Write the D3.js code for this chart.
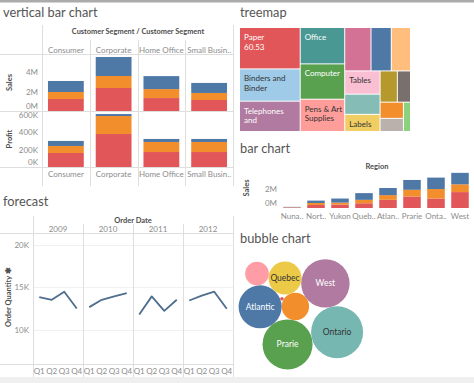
<!DOCTYPE html>
<html><head><meta charset="utf-8">
<script src="https://cdn.jsdelivr.net/npm/d3@7"></script>
<style>body{margin:0;background:#fff;overflow:hidden} svg text{font-family:Lato,'Open Sans',sans-serif}</style>
</head><body>
<svg id="c" width="474" height="383"></svg>
<script>
// ---------------- DATA ----------------
const segments = ["Consumer", "Corporate", "Home Office", "Small Business"];
const segmentLabels = ["Consumer", "Corporate", "Home Office", "Small Busin.."];
const categories = ["Technology", "Office Supplies", "Furniture"]; // stacked bottom -> top
const salesTechnology = [1.23, 2.36, 1.33, 1.13];   // millions
const salesOffice     = [0.72, 1.23, 0.92, 0.72];
const salesFurniture  = [1.13, 1.95, 1.33, 1.03];
const profitTechnology = [162, 381, 173, 173];       // thousands
const profitOffice     = [81, 208, 116, 116];
const profitFurniture  = [58, 23, 35, 35];
const salesTicks = [0, 2, 4];
const profitTicks = [0, 200, 400, 600];

const treeNames = ["Paper", "Binders and Binder Accessories", "Telephones and Communication",
  "Office Furnishings", "Computer Peripherals", "Pens & Art Supplies",
  "Chairs & Chairmats", "Office Machines", "Storage & Organization",
  "Tables", "Appliances", "Labels", "Bookcases", "Copiers and Fax",
  "Envelopes", "Rubber Bands", "Scissors, Rulers and Trimmers"];
const treeLabels = ["Paper\n60.53", "Binders and\nBinder", "Telephones\nand", "Office", "Computer", "Pens & Art\nSupplies",
  "", "", "", "Tables", "", "Labels", "", "", "", "", ""];
const treeValues = [60.53, 47.2, 44.3, 39.0, 37.9, 34.6, 27.5, 21.2, 20.1, 19.8, 17.2, 14.6, 13.0, 9.9, 9.1, 7.4, 5.0];
const treeGroups = ["a", "a", "a", "b", "b", "b", "c/t", "c/t", "c/t", "c/b/l", "c/b/l", "c/b/l",
  "c/b/r/t", "c/b/r/t", "c/b/r/b/s", "c/b/r/b/s", "c/b/r/b"];
const treeColors = ["#e15759", "#a0cbe8", "#b07aa1", "#499894", "#59a14f", "#ff9d9a", "#d37295", "#4e79a7", "#ffbe7d",
  "#fabfd2", "#86bcb6", "#f1ce63", "#b6992d", "#79706e", "#f28e2b", "#bab0ac", "#8cd17d"];

const regions = ["Nunavut", "Northwest Territories", "Yukon", "Quebec", "Atlantic", "Prarie", "Ontario", "West"];
const regionLabels = ["Nuna..", "Nort..", "Yukon", "Queb..", "Atlan..", "Prarie", "Onta..", "West"];
const regionTechnology = [0.05, 0.32, 0.36, 0.50, 0.86, 1.21, 1.00, 1.68];
const regionOffice     = [0.03, 0.21, 0.21, 0.36, 0.50, 0.71, 1.00, 0.82];
const regionFurniture  = [0.04, 0.25, 0.43, 0.71, 0.75, 1.04, 1.21, 1.21];
const regionTicks = [0, 2];

const years = ["2009", "2010", "2011", "2012"];
const quarters = ["Q1", "Q2", "Q3", "Q4"];
const qty2009 = [13.86, 13.54, 14.49, 12.52]; // thousands
const qty2010 = [12.68, 13.54, 13.94, 14.33];
const qty2011 = [11.81, 13.94, 12.24, 13.54];
const qty2012 = [13.46, 14.02, 14.49, 12.48];
const qtyTicks = [10, 15, 20];

// bubbles, in packing order
const bubbleRegions = ["Northwest Territories", "Nunavut", "Atlantic", "Quebec", "Prarie", "West", "Ontario", "Yukon"];
const bubbleValues = [7.5, 0.12, 18.5, 10.9, 25.0, 23.4, 27.0, 5.6];
const bubbleColors = ["#f28e2b", "#e15759", "#4e79a7", "#edc948", "#59a14f", "#b07aa1", "#76b7b2", "#ff9da7"];

// ---------------- HELPERS ----------------
const svg = d3.select("#c");
const GRID = "#dedede", AX = "#8c8c8c", HEAD = "#4d4d4d", TITLE = "#555";
const catColor = d3.scaleOrdinal().domain(categories).range(["#e15759", "#f28e2b", "#4e79a7"]);
const textOn = c => d3.lab(c).l > 65 ? "#333" : "#fff";

function hline(x1, x2, y, c) { svg.append("line").attr("x1", x1).attr("x2", x2).attr("y1", y).attr("y2", y).attr("stroke", c || GRID).attr("shape-rendering", "crispEdges"); }
function vline(x, y1, y2, c) { svg.append("line").attr("x1", x).attr("x2", x).attr("y1", y1).attr("y2", y2).attr("stroke", c || GRID).attr("shape-rendering", "crispEdges"); }
function txt(x, y, t, o) {
  o = o || {};
  return svg.append("text").attr("x", x).attr("y", y).attr("font-size", o.size || 8).attr("fill", o.fill || AX)
    .attr("font-weight", o.weight || 400).attr("text-anchor", o.anchor || "start").text(t);
}
function vtxt(x, y, t, o) {
  o = o || {};
  return svg.append("text").attr("transform", `translate(${x},${y}) rotate(-90)`).attr("font-size", o.size || 7.5)
    .attr("fill", o.fill || HEAD).attr("font-weight", o.weight || 700).attr("text-anchor", "middle").text(t);
}
function styleAxis(g) {
  g.select(".domain").remove();
  g.attr("font-family", null).attr("font-size", null);
  g.selectAll("text").attr("font-size", 8).attr("fill", AX);
  g.selectAll(".tick").filter(d => d === 0).select("text").attr("dy", "-0.3em");
}

// frame
svg.append("rect").attr("x", 0).attr("y", 0).attr("width", 474).attr("height", 2.5).attr("fill", "#ababab");
svg.append("rect").attr("x", 0).attr("y", 377).attr("width", 474).attr("height", 6).attr("fill", "#efefef");

const TS = 12.8;
txt(3, 16.7, "vertical bar chart", { size: TS, fill: TITLE });
txt(240, 16.7, "treemap", { size: TS, fill: TITLE });
txt(240, 152.7, "bar chart", { size: TS, fill: TITLE });
txt(3, 206, "forecast", { size: TS, fill: TITLE });
txt(240, 243, "bubble chart", { size: TS, fill: TITLE });

// ---------------- VERTICAL BAR CHART ----------------
{
  const x = d3.scaleBand().domain(segments).range([42, 233]).paddingInner(0.25).paddingOuter(0.125);
  const ySales = d3.scaleLinear().domain([0, 5.85]).range([111, 54]);
  const yProfit = d3.scaleLinear().domain([0, 647]).range([167, 111]);
  const stack = d3.stack().keys(categories);
  const salesRows = segments.map((s, i) => ({ seg: s, "Technology": salesTechnology[i], "Office Supplies": salesOffice[i], "Furniture": salesFurniture[i] }));
  const profitRows = segments.map((s, i) => ({ seg: s, "Technology": profitTechnology[i], "Office Supplies": profitOffice[i], "Furniture": profitFurniture[i] }));

  hline(0, 233, 54.5); hline(0, 233, 111.5); hline(0, 233, 167.5);
  vline(42.5, 25, 186); vline(233.5, 25, 186);
  segments.slice(1).forEach(s => vline(Math.round(x(s) - x.step() * x.paddingInner() / 2) + 0.5, 40, 186));

  [[ySales, stack(salesRows)], [yProfit, stack(profitRows)]].forEach(([y, series]) => {
    svg.append("g").selectAll("g").data(series).join("g").attr("fill", d => catColor(d.key))
      .selectAll("rect").data(d => d).join("rect")
      .attr("x", d => x(d.data.seg)).attr("width", x.bandwidth())
      .attr("y", d => y(d[1])).attr("height", d => y(d[0]) - y(d[1]));
  });

  styleAxis(svg.append("g").attr("transform", "translate(41,0)")
    .call(d3.axisLeft(ySales).tickValues(salesTicks).tickFormat(d => d + "M").tickSize(0).tickPadding(3)));
  styleAxis(svg.append("g").attr("transform", "translate(41,0)")
    .call(d3.axisLeft(yProfit).tickValues(profitTicks).tickFormat(d => d + "K").tickSize(0).tickPadding(3)));

  txt(138, 33.7, "Customer Segment / Customer Segment", { anchor: "middle", fill: HEAD, weight: 700, size: 7.4 });
  segments.forEach((s, i) => {
    txt(x(s) + x.bandwidth() / 2, 52.6, segmentLabels[i], { anchor: "middle" });
    txt(x(s) + x.bandwidth() / 2, 176.5, segmentLabels[i], { anchor: "middle" });
  });
  vtxt(11.5, 82.5, "Sales");
  vtxt(11.5, 139, "Profit");
}

// ---------------- TREEMAP ----------------
{
  const rootObj = { name: "root", children: [] };
  treeNames.forEach((n, i) => {
    let node = rootObj;
    treeGroups[i].split("/").forEach(k => {
      let ch = node.children.find(c => c.key === k && c.children);
      if (!ch) { ch = { key: k, children: [] }; node.children.push(ch); }
      node = ch;
    });
    node.children.push({ name: n, value: treeValues[i], color: treeColors[i], label: treeLabels[i] });
  });
  const root = d3.hierarchy(rootObj).sum(d => d.value || 0);
  d3.treemap().size([170, 103]).tile(d3.treemapSliceDice).paddingInner(1).round(false)(root);
  const g = svg.append("g").attr("transform", "translate(240,28)");
  const leaf = g.selectAll("g").data(root.leaves()).join("g");
  leaf.append("rect").attr("x", d => d.x0).attr("y", d => d.y0).attr("width", d => d.x1 - d.x0).attr("height", d => d.y1 - d.y0)
    .attr("fill", d => d.data.color);
  leaf.each(function (d) {
    if (!d.data.label) return;
    d.data.label.split("\n").forEach((l, k) => {
      d3.select(this).append("text").attr("x", d.x0 + 4).attr("y", d.y0 + 12 + k * 9.7).attr("font-size", 8)
        .attr("fill", textOn(d.data.color)).text(l);
    });
  });
}

// ---------------- BAR CHART ----------------
{
  const x = d3.scaleBand().domain(regions).range([280, 472]).paddingInner(0.27).paddingOuter(0.135);
  const y = d3.scaleLinear().domain([0, 3.8]).range([208, 172]);
  const rows = regions.map((r, i) => ({ reg: r, "Technology": regionTechnology[i], "Office Supplies": regionOffice[i], "Furniture": regionFurniture[i] }));
  svg.append("g").selectAll("g").data(d3.stack().keys(categories)(rows)).join("g").attr("fill", d => catColor(d.key))
    .selectAll("rect").data(d => d).join("rect")
    .attr("x", d => x(d.data.reg)).attr("width", x.bandwidth())
    .attr("y", d => y(d[1])).attr("height", d => y(d[0]) - y(d[1]));
  styleAxis(svg.append("g").attr("transform", "translate(280,0)")
    .call(d3.axisLeft(y).tickValues(regionTicks).tickFormat(d => d + "M").tickSize(0).tickPadding(3)));
  regions.forEach((r, i) => txt(x(r) + x.bandwidth() / 2, 218.7, regionLabels[i], { anchor: "middle" }));
  txt(377, 169.3, "Region", { anchor: "middle", fill: HEAD, weight: 700, size: 7.5 });
  vtxt(249, 188, "Sales");
}

// ---------------- FORECAST ----------------
{
  const xy = d3.scaleBand().domain(years).range([33, 233]);
  const xq = d3.scaleBand().domain(quarters).range([0, xy.bandwidth()]);
  const y = d3.scaleLinear().domain([6, 21.5]).range([364, 232]);
  const series = [qty2009, qty2010, qty2011, qty2012];
  qtyTicks.forEach(t => hline(33, 233, Math.round(y(t)) + 0.5, "#f1f1f1"));
  hline(0, 233, 233.5); hline(0, 233, 364.5);
  vline(33.5, 216, 377); vline(233.5, 216, 377);
  years.slice(1).forEach(yr => vline(Math.round(xy(yr)) + 0.5, 224, 377));
  const line = d3.line().x((d, i) => xq(quarters[i]) + xq.bandwidth() / 2).y(d => y(d));
  years.forEach((yr, k) => {
    svg.append("path").attr("transform", `translate(${xy(yr)},0)`).attr("d", line(series[k]))
      .attr("fill", "none").attr("stroke", "#4f6d8d").attr("stroke-width", 1.8).attr("stroke-linejoin", "round");
    txt(xy(yr) + xy.bandwidth() / 2, 231.7, yr, { anchor: "middle" });
    quarters.forEach(q => txt(xy(yr) + xq(q) + xq.bandwidth() / 2, 374.3, q, { anchor: "middle" }));
  });
  styleAxis(svg.append("g").attr("transform", "translate(32,0)")
    .call(d3.axisLeft(y).tickValues(qtyTicks).tickFormat(d => d + "K").tickSize(0).tickPadding(3)));
  txt(133, 222.7, "Order Date", { anchor: "middle", fill: HEAD, weight: 700, size: 7.5 });
  vtxt(11, 297, "Order Quantity \u2731");
}

// ---------------- BUBBLE CHART ----------------
{
  const r = d3.scaleSqrt().domain([0, 27]).range([0, 26]);
  const nodes = bubbleRegions.map((name, i) => ({ name, r: r(bubbleValues[i]), color: bubbleColors[i] }));
  d3.packSiblings(nodes);
  // orientation of the packed cluster inside the panel
  const centre = [300.9, 311.7], angle = -150.2 * Math.PI / 180, mirror = -1;
  const W = d3.sum(nodes, d => d.r * d.r);
  const mx = d3.sum(nodes, d => d.r * d.r * d.x) / W, my = d3.sum(nodes, d => d.r * d.r * d.y) / W;
  const cos = Math.cos(angle), sin = Math.sin(angle);
  nodes.forEach(d => {
    const X = d.x - mx, Y = (d.y - my) * mirror;
    d.cx = centre[0] + X * cos - Y * sin;
    d.cy = centre[1] + X * sin + Y * cos;
  });
  const g = svg.append("g");
  g.selectAll("circle").data(nodes).join("circle").attr("cx", d => d.cx).attr("cy", d => d.cy).attr("r", d => d.r)
    .attr("fill", d => d.color);
  g.selectAll("text").data(nodes.filter(d => d.r > 15)).join("text").attr("x", d => d.cx).attr("y", d => d.cy + 3)
    .attr("text-anchor", "middle").attr("font-size", 8.5).attr("fill", d => textOn(d.color)).text(d => d.name);
}
</script>
</body></html>
